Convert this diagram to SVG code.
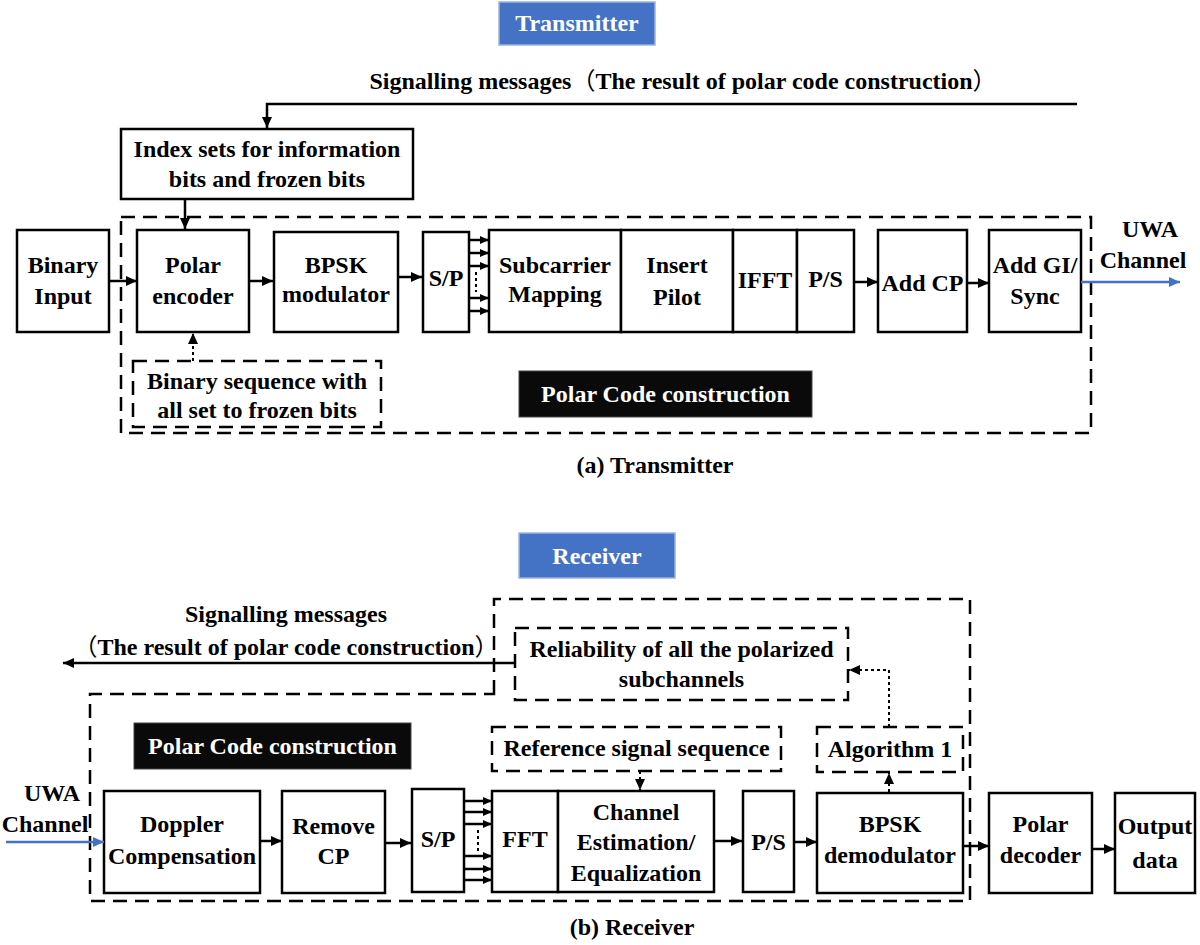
<svg xmlns="http://www.w3.org/2000/svg" width="1200" height="945" viewBox="0 0 1200 945">
<style>
text{font-family:'Liberation Serif',serif;font-weight:bold;font-size:24px;fill:#000;text-anchor:middle}
.cjk{font-family:'Noto Sans CJK SC',sans-serif;font-weight:normal}
.w{fill:#fff}
.box{fill:#fff;stroke:#000;stroke-width:2.5}
.dbox{fill:none;stroke:#000;stroke-width:2.5;stroke-dasharray:14 8}
.hdr{fill:#4472C4;stroke:#9db3de;stroke-width:1.5}
.blk{fill:#0a0a0a;stroke:#444;stroke-width:1}
.ln{fill:none;stroke:#000;stroke-width:2.5}
.dot{fill:none;stroke:#000;stroke-width:2;stroke-dasharray:3 3}
.blue{fill:none;stroke:#4472C4;stroke-width:2.5}
</style>
<defs>
<marker id="ah" markerUnits="userSpaceOnUse" markerWidth="12" markerHeight="10" refX="11" refY="5" orient="auto"><path d="M0,0 L11,5 L0,10 z" fill="#000"/></marker>
<marker id="ahs" markerUnits="userSpaceOnUse" markerWidth="10" markerHeight="8" refX="9" refY="4" orient="auto"><path d="M0,0 L9,4 L0,8 z" fill="#000"/></marker>
<marker id="ahb" markerUnits="userSpaceOnUse" markerWidth="12" markerHeight="10" refX="11" refY="5" orient="auto"><path d="M0,0 L11,5 L0,10 z" fill="#4472C4"/></marker>
</defs>

<!-- ===== Transmitter ===== -->
<g id="tx-header"><rect class="hdr" x="499" y="2" width="156" height="43"/><text class="w" x="577" y="31">Transmitter</text></g>
<g id="tx-signalling"><text x="683" y="89">Signalling messages<tspan class="cjk">（</tspan>The result of polar code construction<tspan class="cjk">）</tspan></text></g>
<g id="tx-frame"><rect class="dbox" x="121" y="217" width="970" height="216"/></g>
<g id="index-sets"><rect class="box" x="121" y="129" width="292" height="70"/><text x="267" y="157">Index sets for information</text><text x="267" y="187">bits and frozen bits</text></g>
<g id="binary-input"><rect class="box" x="17" y="230" width="92" height="102"/><text x="63" y="273">Binary</text><text x="63" y="304">Input</text></g>
<g id="polar-encoder"><rect class="box" x="137" y="230" width="112" height="102"/><text x="193" y="273">Polar</text><text x="193" y="304">encoder</text></g>
<g id="bpsk-mod"><rect class="box" x="274" y="232" width="124" height="100"/><text x="336" y="273">BPSK</text><text x="336" y="302">modulator</text></g>
<g id="tx-sp"><rect class="box" x="423" y="232" width="46" height="100"/><text x="446" y="286">S/P</text></g>
<g id="subcarrier"><rect class="box" x="489" y="230" width="132" height="102"/><text x="555" y="273">Subcarrier</text><text x="555" y="302">Mapping</text></g>
<g id="insert-pilot"><rect class="box" x="621" y="230" width="112" height="102"/><text x="677" y="273">Insert</text><text x="677" y="305">Pilot</text></g>
<g id="ifft"><rect class="box" x="733" y="230" width="64" height="102"/><text x="765" y="288">IFFT</text></g>
<g id="tx-ps"><rect class="box" x="797" y="230" width="57" height="102"/><text x="825.5" y="287">P/S</text></g>
<g id="add-cp"><rect class="box" x="878" y="230" width="89" height="102"/><text x="922.5" y="291">Add CP</text></g>
<g id="add-gi"><rect class="box" x="989" y="230" width="92" height="102"/><text x="1035" y="273">Add GI/</text><text x="1035" y="304">Sync</text></g>
<g id="tx-uwa"><text x="1150" y="237">UWA</text><text x="1143" y="268">Channel</text></g>
<g id="frozen-seq"><rect class="dbox" x="133" y="361" width="248" height="66"/><text x="257" y="389">Binary sequence with</text><text x="257" y="418">all set to frozen bits</text></g>
<g id="tx-pcc"><rect class="blk" x="519" y="371" width="293" height="46"/><text class="w" x="665.5" y="402">Polar Code construction</text></g>
<g id="tx-caption"><text x="655" y="473">(a) Transmitter</text></g>

<!-- ===== Receiver ===== -->
<g id="rx-header"><rect class="hdr" x="519" y="533" width="156" height="45"/><text class="w" x="597" y="564">Receiver</text></g>
<g id="rx-signalling"><text x="286" y="622">Signalling messages</text><text x="286" y="655"><tspan class="cjk">（</tspan>The result of polar code construction<tspan class="cjk">）</tspan></text></g>
<g id="rx-frame"><path class="dbox" d="M494,694 V599 H970 V901 H90 V694 Z"/></g>
<g id="reliability"><rect class="dbox" x="515" y="628" width="333" height="72"/><text x="681.5" y="657">Reliability of all the polarized</text><text x="681.5" y="687">subchannels</text></g>
<g id="rx-pcc"><rect class="blk" x="134" y="723" width="277" height="46"/><text class="w" x="272.5" y="754">Polar Code construction</text></g>
<g id="ref-signal"><rect class="dbox" x="492" y="727" width="289" height="44"/><text x="636.5" y="756">Reference signal sequence</text></g>
<g id="algorithm1"><rect class="dbox" x="817" y="727" width="146" height="45"/><text x="890" y="757">Algorithm 1</text></g>
<g id="rx-uwa"><text x="52" y="801">UWA</text><text x="45" y="832">Channel</text></g>
<g id="doppler"><rect class="box" x="104" y="791" width="156" height="102"/><text x="182" y="832">Doppler</text><text x="182" y="864">Compensation</text></g>
<g id="remove-cp"><rect class="box" x="282" y="791" width="103" height="102"/><text x="333.5" y="834">Remove</text><text x="333.5" y="864">CP</text></g>
<g id="rx-sp"><rect class="box" x="412" y="789" width="52" height="103"/><text x="438" y="847">S/P</text></g>
<g id="fft"><rect class="box" x="492" y="791" width="66" height="101"/><text x="525" y="847">FFT</text></g>
<g id="chan-est"><rect class="box" x="558" y="791" width="156" height="101"/><text x="636" y="820">Channel</text><text x="636" y="850">Estimation/</text><text x="636" y="881">Equalization</text></g>
<g id="rx-ps"><rect class="box" x="743" y="791" width="51" height="101"/><text x="768.5" y="850">P/S</text></g>
<g id="bpsk-demod"><rect class="box" x="817" y="793" width="146" height="100"/><text x="890" y="832">BPSK</text><text x="890" y="863">demodulator</text></g>
<g id="polar-decoder"><rect class="box" x="989" y="793" width="103" height="100"/><text x="1040.5" y="832">Polar</text><text x="1040.5" y="863">decoder</text></g>
<g id="output-data"><rect class="box" x="1115" y="793" width="80" height="100"/><text x="1155" y="834">Output</text><text x="1155" y="868">data</text></g>
<g id="rx-caption"><text x="632" y="935">(b) Receiver</text></g>

<!-- ===== Connectors ===== -->
<g id="connectors">
<path class="ln" d="M1077,104 H267 V128" marker-end="url(#ah)"/>
<path class="ln" d="M185,200 V229" marker-end="url(#ah)"/>
<path class="ln" d="M109,281 H137" marker-end="url(#ah)"/>
<path class="ln" d="M249,281 H273" marker-end="url(#ah)"/>
<path class="ln" d="M398,277 H422" marker-end="url(#ah)"/>
<path class="ln" d="M469,240 H489" marker-end="url(#ahs)"/>
<path class="ln" d="M469,253 H489" marker-end="url(#ahs)"/>
<path class="ln" d="M469,266 H489" marker-end="url(#ahs)"/>
<path class="ln" d="M469,298 H489" marker-end="url(#ahs)"/>
<path class="ln" d="M469,311 H489" marker-end="url(#ahs)"/>
<path class="dot" d="M476,272 V292"/>
<path class="ln" d="M854,282 H878" marker-end="url(#ah)"/>
<path class="ln" d="M967,283 H989" marker-end="url(#ah)"/>
<path class="blue" d="M1081,282 H1180" marker-end="url(#ahb)"/>
<path class="dot" d="M193,361 V333" marker-end="url(#ah)"/>

<path class="ln" d="M515,663 H63" marker-end="url(#ah)"/>
<path class="dot" d="M640,771 V790" marker-end="url(#ah)"/>
<path class="dot" d="M889,792 V773" marker-end="url(#ah)"/>
<path class="dot" d="M889,727 V670 H849" marker-end="url(#ah)"/>
<path class="blue" d="M6,842 H104" marker-end="url(#ahb)"/>
<path class="ln" d="M260,841 H282" marker-end="url(#ah)"/>
<path class="ln" d="M385,843 H411" marker-end="url(#ah)"/>
<path class="ln" d="M464,801 H492" marker-end="url(#ahs)"/>
<path class="ln" d="M464,812 H492" marker-end="url(#ahs)"/>
<path class="ln" d="M464,824 H492" marker-end="url(#ahs)"/>
<path class="ln" d="M464,856 H492" marker-end="url(#ahs)"/>
<path class="ln" d="M464,869 H492" marker-end="url(#ahs)"/>
<path class="ln" d="M464,880 H492" marker-end="url(#ahs)"/>
<path class="dot" d="M478,830 V852"/>
<path class="ln" d="M714,841 H742" marker-end="url(#ah)"/>
<path class="ln" d="M794,842 H817" marker-end="url(#ah)"/>
<path class="ln" d="M963,846 H989" marker-end="url(#ah)"/>
<path class="ln" d="M1092,849 H1115" marker-end="url(#ah)"/>
</g>
</svg>
